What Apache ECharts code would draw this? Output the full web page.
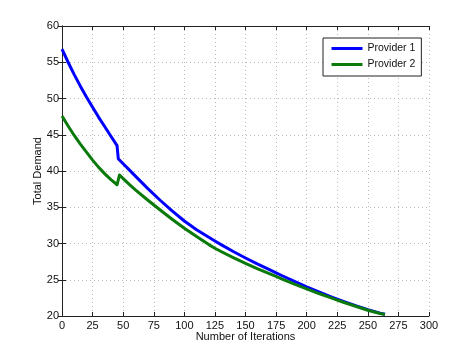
<!DOCTYPE html>
<html>
<head>
<meta charset="utf-8">
<script src="https://cdn.jsdelivr.net/npm/echarts@6/dist/echarts.min.js"></script>
<style>
html,body{margin:0;padding:0;background:#fff;}
#chart{width:474px;height:355px;}
</style>
</head>
<body>
<div id="chart"></div>
<script>
const seriesNames = ['Provider 1', 'Provider 2'];
const xTicks = [0, 25, 50, 75, 100, 125, 150, 175, 200, 225, 250, 275, 300];
const yTicks = [20, 25, 30, 35, 40, 45, 50, 55, 60];

const p1Iter = [0, 5, 10, 15, 20, 25, 30, 35, 40, 45, 46, 50, 55, 60, 70, 80, 90, 100, 110, 120, 125, 130, 140, 150, 160, 170, 175, 180, 190, 200, 210, 220, 225, 230, 240, 250, 260, 264];
const p1Demand = [56.8, 55.0, 53.3, 51.7, 50.2, 48.8, 47.4, 46.1, 44.8, 43.5, 41.7, 41.0, 40.15, 39.3, 37.6, 36.0, 34.5, 33.1, 31.9, 30.85, 30.35, 29.85, 28.9, 28.0, 27.15, 26.35, 25.95, 25.55, 24.77, 24.02, 23.32, 22.65, 22.33, 22.02, 21.42, 20.87, 20.4, 20.25];

const p2Iter = [0, 5, 10, 15, 20, 25, 30, 35, 40, 45, 47, 50, 55, 60, 70, 80, 90, 100, 110, 120, 125, 130, 140, 150, 160, 170, 175, 180, 190, 200, 210, 220, 225, 230, 240, 250, 260, 264];
const p2Demand = [47.6, 46.2, 44.9, 43.7, 42.6, 41.5, 40.5, 39.6, 38.8, 38.1, 39.45, 38.95, 38.15, 37.4, 36.0, 34.65, 33.35, 32.1, 30.95, 29.85, 29.35, 28.9, 28.05, 27.25, 26.5, 25.8, 25.45, 25.1, 24.4, 23.75, 23.1, 22.5, 22.2, 21.9, 21.35, 20.8, 20.35, 20.2];

const font = 'Liberation Sans, Arial, Helvetica, sans-serif';
const pair = (xs, ys) => xs.map((x, i) => [x, ys[i]]);

const chart = echarts.init(document.getElementById('chart'), null, {renderer: 'canvas'});
const gridStyle = {show: true, lineStyle: {color: '#b8b8b8', type: [1, 3], width: 1}};
const lineAxis = {show: true, lineStyle: {color: '#222', width: 1}};
const tickStyle = {show: true, inside: true, length: 4, lineStyle: {color: '#222'}};
const xMin = xTicks[0], xMax = xTicks[xTicks.length - 1], xStep = xTicks[1] - xTicks[0];
const yMin = yTicks[0], yMax = yTicks[yTicks.length - 1], yStep = yTicks[1] - yTicks[0];

chart.setOption({
  animation: false,
  backgroundColor: '#fff',
  grid: {left: 62, right: 45, top: 26, bottom: 39, containLabel: false},
  legend: {
    orient: 'vertical',
    left: 323, top: 38,
    data: seriesNames,
    itemWidth: 31, itemHeight: 12, itemGap: 5,
    padding: [5, 6, 6, 7],
    borderColor: '#222', borderWidth: 1,
    backgroundColor: '#fff',
    itemStyle: {opacity: 0},
    lineStyle: {width: 3},
    textStyle: {fontFamily: font, fontSize: 10.5, color: '#111'}
  },
  xAxis: [{
    type: 'value', min: xMin, max: xMax, interval: xStep, position: 'bottom',
    name: 'Number of Iterations', nameLocation: 'middle', nameGap: 15, nameMoveOverlap: false,
    nameTextStyle: {fontFamily: font, fontSize: 11, color: '#111'},
    axisLine: lineAxis, axisTick: tickStyle,
    axisLabel: {fontFamily: font, fontSize: 11, color: '#111', margin: 4},
    splitLine: gridStyle
  }, {
    type: 'value', min: xMin, max: xMax, interval: xStep, position: 'top',
    axisLine: lineAxis, axisTick: tickStyle,
    axisLabel: {show: false}, splitLine: {show: false}
  }],
  yAxis: [{
    type: 'value', min: yMin, max: yMax, interval: yStep, position: 'left',
    name: 'Total Demand', nameLocation: 'middle', nameGap: 19, nameMoveOverlap: false,
    nameTextStyle: {fontFamily: font, fontSize: 11, color: '#111'},
    axisLine: lineAxis, axisTick: tickStyle,
    axisLabel: {fontFamily: font, fontSize: 11, color: '#111', margin: 3},
    splitLine: gridStyle
  }, {
    type: 'value', min: yMin, max: yMax, interval: yStep, position: 'right',
    axisLine: lineAxis, axisTick: tickStyle,
    axisLabel: {show: false}, splitLine: {show: false}
  }],
  series: [{
    name: seriesNames[0], type: 'line', data: pair(p1Iter, p1Demand),
    symbol: 'none', smooth: false,
    lineStyle: {color: '#0000ff', width: 3, join: 'round'}, itemStyle: {color: '#0000ff'}
  }, {
    name: seriesNames[1], type: 'line', data: pair(p2Iter, p2Demand),
    symbol: 'none', smooth: false,
    lineStyle: {color: '#0a7a0a', width: 3, join: 'round'}, itemStyle: {color: '#0a7a0a'}
  }]
});
</script>
</body>
</html>
